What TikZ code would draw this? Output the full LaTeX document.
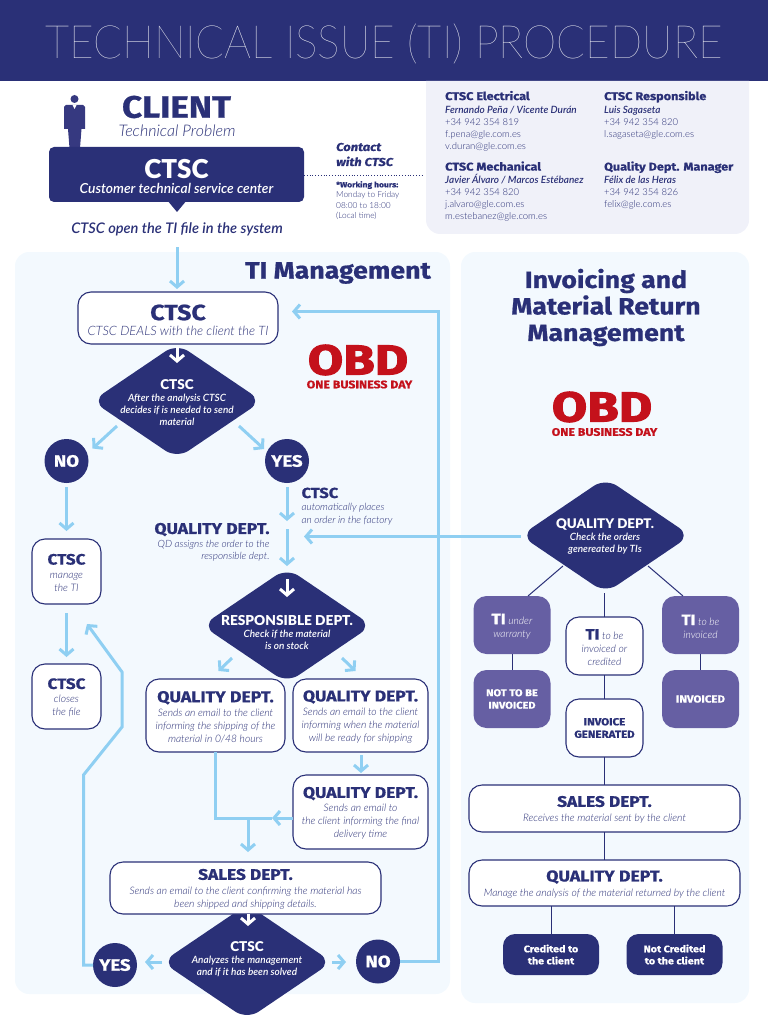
\documentclass[tikz,border=0pt]{standalone}
\usepackage{fontspec}
\setmainfont{Lato Light}[BoldFont={Fira Sans Bold},BoldFeatures={FakeBold=0.8,FakeStretch=1.13},ItalicFont={Lato Light Italic},BoldItalicFont={Fira Sans Bold Italic},BoldItalicFeatures={FakeBold=0.8,FakeStretch=1.13}]
\newfontfamily\thinfont{Lato Thin}[FakeStretch=0.92]
\newfontfamily\medfont{Lato Semibold}[ItalicFont={Lato Semibold Italic}]
\newfontfamily\heavyfont{Fira Sans Bold}[FakeBold=2.5,FakeStretch=1.22]
\usepackage{tikz}
\usetikzlibrary{arrows.meta,shapes.geometric}
\definecolor{navy}{HTML}{2A3077}
\definecolor{sky}{HTML}{8FCFF2}
\definecolor{plum}{HTML}{665FA3}
\definecolor{panel}{HTML}{F3F9FE}
\definecolor{contact}{HTML}{F0F1F9}
\definecolor{obdred}{HTML}{C4111B}
\newcommand{\hd}[2]{{\fontsize{#1}{#1}\selectfont\bfseries\upshape\rule{0pt}{.88em}#2}}
\newcommand{\sz}[2]{\fontsize{#1}{#2}\selectfont}
\tikzset{
    flow/.style={draw=sky,line width=3pt,-{Straight Barb[length=6pt,width=14pt]}},
    rail/.style={draw=sky,line width=3pt},
    inner/.style={draw=white,line width=3pt,-{Straight Barb[length=6pt,width=14pt]}},
    tie/.style={draw=navy,line width=1pt},
    box/.style={draw=navy,line width=1.1pt,fill=white,rounded corners=13pt,align=center,text=navy,inner sep=0pt,outer sep=0pt,font=\itshape\sz{10.3}{13}},
    plumbox/.style={fill=plum,rounded corners=13pt,align=center,text=white,inner sep=0pt,outer sep=0pt,font=\itshape\sz{10.3}{13}},
    navybox/.style={fill=navy,rounded corners=12pt,align=center,text=white,inner sep=0pt,outer sep=0pt,font=\sz{9.5}{12}},
    dia/.style={diamond,fill=navy,rounded corners=14pt,inner sep=0pt,outer sep=0pt,minimum width=170,minimum height=115},
    dialab/.style={align=center,text=white,inner sep=0pt,font=\medfont\itshape\sz{10}{12}},
    round/.style={circle,fill=navy,text=white,minimum size=44,inner sep=0pt,outer sep=0pt,font=\bfseries\sz{16.5}{17}},
    side/.style={align=left,text=navy,inner sep=0pt,font=\itshape\sz{10}{12.5}},
    card/.style={anchor=north west,align=left,text=navy,inner sep=0pt,font=\sz{9.5}{12}},
}
\begin{document}
\begin{tikzpicture}[x=1pt,y=-1pt]
    \useasboundingbox (0,0) rectangle (768,1024);
    \fill[navy] (0,0) rectangle (768,81);
    \node[text=white,inner sep=0pt,font=\thinfont\sz{46}{48}] (title) at (384,44) {TECHNICAL ISSUE (TI) PROCEDURE};
    \fill[contact] (426,81) {[rounded corners=14pt] -- (426,234) -- (749,234)} -- (749,81) -- cycle;
    \fill[panel,rounded corners=14pt] (15,252) rectangle (450,994);
    \fill[panel,rounded corners=14pt] (461,252) rectangle (749,1003);

    \fill[navy!80!plum] (74.5,99) circle (4);
    \fill[navy!80!plum] (66,105) -- (83,105) -- (85,107) -- (85,129) -- (81.5,129) -- (80,148) -- (69.5,148) -- (68,129) -- (64,129) -- (64,107) -- cycle;
    \fill[white] (72.5,105) -- (76.5,105) -- (74.5,109) -- cycle;
    \node[text=navy,inner sep=0pt,font=\bfseries\sz{31}{32}] (client) at (176.5,107) {CLIENT};
    \node[text=navy,inner sep=0pt,font=\itshape\sz{16}{17}] (problem) at (177,130.5) {Technical Problem};
    \fill[navy] (167,200) -- (177,212) -- (187,200) -- cycle;
    \node[fill=navy,rounded corners=5pt,minimum width=255,minimum height=55,inner sep=0pt,outer sep=0pt,align=center,text=white,font=\medfont\itshape\sz{13.8}{15}] (ctsc0) at (176.5,174.5) {\hd{26}{CTSC}\\Customer technical service center};
    \node[text=navy,inner sep=0pt,font=\medfont\itshape\sz{14.6}{16}] (opens) at (177,229) {CTSC open the TI file in the system};

    \node[anchor=west,align=left,text=navy,inner sep=0pt,font=\bfseries\itshape\sz{11.5}{15}] (contactwith) at (336,154.5) {Contact\\with CTSC};
    \coordinate (dots0) at (424,175);
    \draw[navy,line width=0.8pt,dotted] (ctsc0.east |- dots0) -- (dots0);
    \node[anchor=north west,align=left,text=navy,inner sep=0pt,font=\sz{8.3}{10.5}] (hours) at (336,181) {{\bfseries\fontsize{7.5}{10.5}\selectfont *Working hours:}\\Monday to Friday\\08:00 to 18:00\\(Local time)};

    \node[card] (elec) at (445,90) {\hd{11.2}{CTSC Electrical}\\[1pt]{\medfont\itshape\fontsize{10}{12}\selectfont Fernando Peña / Vicente Durán}\\+34 942 354 819\\f.pena@gle.com.es\\v.duran@gle.com.es};
    \node[card] (mech) at (445,160.5) {\hd{11.2}{CTSC Mechanical}\\[1pt]{\medfont\itshape\fontsize{10}{12}\selectfont Javier Álvaro / Marcos Estébanez}\\+34 942 354 820\\j.alvaro@gle.com.es\\m.estebanez@gle.com.es};
    \node[card] (resp) at (604,90) {\hd{11.2}{CTSC Responsible}\\[1pt]{\medfont\itshape\fontsize{10}{12}\selectfont Luis Sagaseta}\\+34 942 354 820\\l.sagaseta@gle.com.es};
    \node[card] (mgr) at (604,160.5) {\hd{11.2}{Quality Dept. Manager}\\[1pt]{\medfont\itshape\fontsize{10}{12}\selectfont Félix de las Heras}\\+34 942 354 826\\felix@gle.com.es};

    \node[text=navy,inner sep=0pt,font=\bfseries\sz{23.6}{24}] (mgmt) at (338,273) {TI Management};
    \node[text=navy,inner sep=0pt,align=center,font=\bfseries\sz{23.6}{26.5}] (invoicing) at (606,307.5) {Invoicing and\\Material Return\\Management};
    \node[text=obdred,inner sep=0pt,font=\heavyfont\sz{42}{42}] (obd1) at (358,360) {OBD};
    \node[text=obdred,inner sep=0pt,font=\bfseries\sz{10.9}{11}] (day1) at (359.5,384.5) {ONE BUSINESS DAY};
    \node[text=obdred,inner sep=0pt,font=\heavyfont\sz{42}{42}] (obd2) at (602,407) {OBD};
    \node[text=obdred,inner sep=0pt,font=\bfseries\sz{10.9}{11}] (day2) at (604.5,432) {ONE BUSINESS DAY};

    \node[dia] (d1) at (177,401) {};
    \node[dia] (d2) at (287,625.5) {};
    \node[dia] (d3) at (247,962) {};
    \node[dia] (d4) at (605.5,535.5) {};
    \node[dialab] (d1lab) at (177,401.5) {\hd{13.5}{CTSC}\\After the analysis CTSC\\decides if is needed to send\\material};
    \node[dialab] (d2lab) at (287,632) {\hd{13.7}{RESPONSIBLE DEPT.}\\Check if the material\\is on stock};
    \node[dialab] (d3lab) at (247,958) {\hd{13.5}{CTSC}\\Analyzes the management\\and if it has been solved};
    \node[dialab] (d4lab) at (605,535.5) {\hd{13.3}{QUALITY DEPT.}\\Check the orders\\genereated by TIs};

    \node[box,minimum width=200,minimum height=52] (c1) at (178,318) {\hd{22}{CTSC}\\[2pt]\sz{12.9}{14}CTSC DEALS with the client the TI};
    \node[box,minimum width=69,minimum height=65] (c2) at (66.5,571.5) {\hd{15}{CTSC}\\[1pt]manage\\the TI};
    \node[box,minimum width=69,minimum height=65] (c3) at (66.5,696.5) {\hd{15}{CTSC}\\[1pt]closes\\the file};
    \node[box,minimum width=139,minimum height=73] (q1) at (215.5,715.5) {\hd{15.7}{QUALITY DEPT.}\\[1pt]Sends an email to the client\\informing the shipping of the\\material in 0/48 hours};
    \node[box,minimum width=135,minimum height=73] (q2) at (360.5,715.5) {\hd{15.5}{QUALITY DEPT.}\\[1pt]Sends an email to the client\\informing when the material\\will be ready for shipping};
    \node[box,minimum width=135,minimum height=74] (q3) at (360.5,812) {\hd{15.5}{QUALITY DEPT.}\\[1pt]Sends an email to\\the client informing the final\\delivery time};
    \node[box,minimum width=271,minimum height=52] (s1) at (245.5,888) {\hd{15.3}{SALES DEPT.}\\[2pt]\sz{10.3}{12.5}Sends an email to the client confirming the material has\\been shipped and shipping details.};

    \node[round] (no1) at (66.5,461) {NO};
    \node[round] (yes1) at (287,461) {YES};
    \node[round] (yes2) at (115,965) {YES};
    \node[round] (no2) at (378,961.5) {NO};

    \node[side] (auto) at (347,505) {\hd{14.5}{CTSC}\\automatically places\\an order in the factory};
    \node[side,align=right] (assign) at (212,541) {\hd{15.5}{QUALITY DEPT.}\\[1pt]QD assigns the order to the\\responsible dept.};

    \node[plumbox,minimum width=77,minimum height=58] (t1) at (512,625) {\hd{15}{TI} under\\warranty};
    \node[plumbox,minimum width=77,minimum height=58,font=\bfseries\sz{9.8}{12.5}] (n1) at (512,699) {NOT TO BE\\INVOICED};
    \node[box,minimum width=77,minimum height=58] (t2) at (604.5,646) {\hd{15}{TI} to be\\invoiced or\\credited};
    \node[box,minimum width=77,minimum height=58,font=\bfseries\sz{10.2}{12.5}] (n2) at (604.5,728) {INVOICE\\GENERATED};
    \node[plumbox,minimum width=77,minimum height=58] (t3) at (700.5,625) {\hd{15}{TI} to be\\invoiced};
    \node[plumbox,minimum width=77,minimum height=58,font=\bfseries\sz{10.2}{12.5}] (n3) at (700.5,699) {INVOICED};
    \node[box,minimum width=271,minimum height=47] (s2) at (604.5,808.5) {\hd{15.3}{SALES DEPT.}\\[2pt]Receives the material sent by the client};
    \node[box,minimum width=271,minimum height=46] (q4) at (604.5,883) {\hd{15.7}{QUALITY DEPT.}\\[2pt]Manage the analysis of the material returned by the client};
    \node[navybox,minimum width=96,minimum height=41,font=\bfseries\sz{9.5}{12}] (cr1) at (551,954.5) {Credited to\\the client};
    \node[navybox,minimum width=96,minimum height=41,font=\bfseries\sz{9.5}{12}] (cr2) at (674.5,954.5) {Not Credited\\to the client};

    \coordinate (start) at (177,247);
    \coordinate (c1top) at (177,289);
    \coordinate (d1a) at (177,347);
    \coordinate (d1b) at (177,363);
    \coordinate (d1l) at (117,426);
    \coordinate (d1lt) at (92.5,448.5);
    \coordinate (d1r) at (239,426);
    \coordinate (d1rt) at (264,449);
    \coordinate (no1b) at (66.5,487);
    \coordinate (c2t) at (66.5,531);
    \coordinate (c2b) at (66.5,613);
    \coordinate (c3t) at (66.5,657);
    \coordinate (yes1b) at (287,487);
    \coordinate (yes1t) at (287,521);
    \coordinate (ord) at (287,529);
    \coordinate (ordt) at (287,566);
    \coordinate (d4in) at (304,536.5);
    \coordinate (d2a) at (287,579);
    \coordinate (d2b) at (287,597);
    \coordinate (d2l) at (232,658);
    \coordinate (d2lt) at (218.5,671);
    \coordinate (d2r) at (342,658);
    \coordinate (d2rt) at (355.5,671);
    \coordinate (q2t) at (361,755);
    \coordinate (q3t) at (361,773);
    \coordinate (j1) at (215,818);
    \coordinate (j2) at (272,818);
    \coordinate (q3w) at (293,818);
    \coordinate (j3) at (248,818);
    \coordinate (s1t) at (248,852);
    \coordinate (d3a) at (248,914);
    \coordinate (d3b) at (248,926);
    \coordinate (yes2t) at (145,962);
    \coordinate (no2t) at (346,962);
    \coordinate (r1) at (438,311.5);
    \coordinate (c1in) at (292,311.5);
    \coordinate (l1) at (83.5,775);
    \coordinate (l2) at (122,727);
    \coordinate (l3) at (122,672);
    \coordinate (l4) at (87,624);

    \draw[flow] (start) -- (c1top);
    \draw[inner] (d1a) -- (d1b);
    \draw[flow] (d1l) -- (d1lt);
    \draw[flow] (d1r) -- (d1rt);
    \draw[flow] (no1b) -- (c2t);
    \draw[flow] (c2b) -- (c3t);
    \draw[flow] (yes1b) -- (yes1t);
    \draw[flow] (ord) -- (ordt);
    \draw[flow] (d4.west |- d4in) -- (d4in);
    \draw[inner] (d2a) -- (d2b);
    \draw[flow] (d2l) -- (d2lt);
    \draw[flow] (d2r) -- (d2rt);
    \draw[flow] (q2t) -- (q3t);
    \draw[rail] (q1.south -| j1) -- (j1) -- (j2);
    \draw[flow] (q3w) -- (j2);
    \draw[flow] (j3) -- (s1t);
    \draw[inner] (d3a) -- (d3b);
    \draw[flow] (d3.west |- yes2t) -- (yes2t);
    \draw[flow] (d3.east |- no2t) -- (no2t);
    \draw[flow] (no2.east) -| (r1) -- (c1in);
    \draw[flow] (yes2.west) -| (l1) -- (l2) -- (l3) -- (l4);

    \coordinate (tie1a) at (563,566);
    \coordinate (tie1b) at (528,596);
    \coordinate (tie3a) at (648,566);
    \coordinate (tie3b) at (683,596);
    \draw[tie] (tie1a) -- (tie1b);
    \draw[tie] (tie3a) -- (tie3b);
    \draw[tie] (d4.south -| t2) -- (t2.north);
    \draw[tie] (t1) -- (n1);
    \draw[tie] (t2) -- (n2);
    \draw[tie] (t3) -- (n3);
    \draw[tie] (n2) -- (s2);
    \draw[tie] (s2) -- (q4);
    \draw[tie] (q4.south -| cr1) -- (cr1.north);
    \draw[tie] (q4.south -| cr2) -- (cr2.north);
\end{tikzpicture}
\end{document}
